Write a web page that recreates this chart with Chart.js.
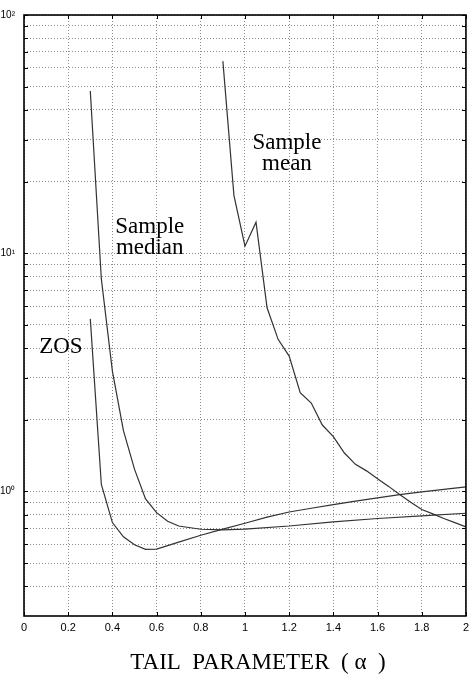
<!DOCTYPE html>
<html>
<head>
<meta charset="utf-8">
<script src="https://cdn.jsdelivr.net/npm/chart.js@4.4.1/dist/chart.umd.min.js"></script>
<style>
html, body { margin: 0; padding: 0; background: #fff; }
#wrap { width: 474px; height: 698px; }
</style>
</head>
<body>
<div id="wrap"><canvas id="chart"></canvas></div>
<script>
// values (tail parameter alpha vs. value, log scale)
var zosAlpha = [0.3, 0.35, 0.4, 0.45, 0.5, 0.55, 0.6, 0.7, 0.8, 0.9, 1.0, 1.1, 1.2, 1.3, 1.4, 1.5, 1.6, 1.7, 1.8, 1.9, 2.0];
var zosValues = [5.3, 1.07, 0.74, 0.645, 0.597, 0.571, 0.573, 0.613, 0.655, 0.695, 0.735, 0.78, 0.82, 0.85, 0.88, 0.91, 0.94, 0.97, 0.995, 1.02, 1.045];

var medianAlpha = [0.3, 0.35, 0.4, 0.45, 0.5, 0.55, 0.6, 0.65, 0.7, 0.8, 0.9, 1.0, 1.2, 1.4, 1.6, 1.8, 2.0];
var medianValues = [48, 7.8, 3.2, 1.8, 1.24, 0.93, 0.815, 0.75, 0.716, 0.694, 0.69, 0.695, 0.716, 0.745, 0.77, 0.79, 0.81];

var meanAlpha = [0.9, 0.95, 1.0, 1.05, 1.1, 1.15, 1.2, 1.25, 1.3, 1.35, 1.4, 1.45, 1.5, 1.55, 1.6, 1.65, 1.7, 1.75, 1.8, 1.85, 1.9, 1.95, 2.0];
var meanValues = [64, 17.5, 10.7, 13.5, 5.9, 4.35, 3.7, 2.6, 2.35, 1.9, 1.7, 1.45, 1.3, 1.22, 1.13, 1.05, 0.97, 0.9, 0.84, 0.805, 0.77, 0.74, 0.71];

var xTicks = [0, 0.2, 0.4, 0.6, 0.8, 1, 1.2, 1.4, 1.6, 1.8, 2];
var yGrid = [0.4, 0.5, 0.6, 0.7, 0.8, 0.9, 1, 2, 3, 4, 5, 6, 7, 8, 9, 10, 20, 30, 40, 50, 60, 70, 80, 90, 100];
var yLabels = { 1: '10\u2070', 10: '10\u00b9', 100: '10\u00b2' };

// text labels: [text, alpha, value, align, second line]
var curveLabels = [
    ['Sample', 1.19, 27.5, 'center'],
    ['mean', 1.19, 27.5, 'center', 1],
    ['Sample', 0.569, 12.2, 'center'],
    ['median', 0.569, 12.2, 'center', 1],
    ['ZOS', 0.167, 3.8, 'center']
];

function pts(xs, ys) {
    return xs.map(function (x, i) { return { x: x, y: ys[i] }; });
}

var frame = {
    id: 'frame',
    afterDraw: function (chart) {
        var ctx = chart.ctx, a = chart.chartArea;
        var xs = chart.scales.x, ys = chart.scales.y;
        ctx.save();
        ctx.strokeStyle = '#000';
        ctx.lineWidth = 1;
        ctx.beginPath();
        xTicks.forEach(function (v) {
            var p = Math.round(xs.getPixelForValue(v)) + 0.5;
            ctx.moveTo(p, a.bottom); ctx.lineTo(p, a.bottom - 4);
            ctx.moveTo(p, a.top); ctx.lineTo(p, a.top + 4);
        });
        yGrid.forEach(function (v) {
            var p = Math.round(ys.getPixelForValue(v)) + 0.5;
            ctx.moveTo(a.left, p); ctx.lineTo(a.left + 4, p);
            ctx.moveTo(a.right, p); ctx.lineTo(a.right - 4, p);
        });
        ctx.stroke();
        ctx.lineWidth = 1.6;
        ctx.strokeRect(a.left, a.top, a.right - a.left, a.bottom - a.top);

        ctx.fillStyle = '#000';
        ctx.textBaseline = 'alphabetic';
        ctx.font = '23px "Liberation Serif"';
        curveLabels.forEach(function (l) {
            ctx.textAlign = l[3];
            ctx.fillText(l[0], xs.getPixelForValue(l[1]), ys.getPixelForValue(l[2]) + (l[4] ? 21 : 0));
        });

        ctx.textAlign = 'center';
        ctx.fillText('TAIL  PARAMETER  ( \u03b1  )', (a.left + a.right) / 2 + 13, a.bottom + 53);
        ctx.restore();
    }
};

var lineStyle = { borderColor: '#333', borderWidth: 1.2, pointRadius: 0, fill: false, tension: 0 };

new Chart(document.getElementById('chart'), {
    type: 'line',
    data: {
        datasets: [
            Object.assign({ label: 'ZOS', data: pts(zosAlpha, zosValues) }, lineStyle),
            Object.assign({ label: 'Sample median', data: pts(medianAlpha, medianValues) }, lineStyle),
            Object.assign({ label: 'Sample mean', data: pts(meanAlpha, meanValues) }, lineStyle)
        ]
    },
    options: {
        responsive: true,
        maintainAspectRatio: false,
        animation: false,
        layout: { padding: { top: 14, right: 7, left: 0, bottom: 0 } },
        plugins: { legend: { display: false }, tooltip: { enabled: false } },
        scales: {
            x: {
                type: 'linear',
                min: 0, max: 2,
                afterFit: function (s) { s.height = 82; },
                afterBuildTicks: function (s) { s.ticks = xTicks.map(function (v) { return { value: v }; }); },
                ticks: {
                    color: '#000', font: { family: 'Liberation Sans', size: 11 }, padding: 5, maxRotation: 0, autoSkip: false,
                    callback: function (v) { return String(v); }
                },
                grid: { color: '#8c8c8c', drawTicks: false, lineWidth: 1 },
                border: { display: false, dash: [1, 2] }
            },
            y: {
                type: 'logarithmic',
                min: 0.3, max: 100,
                afterFit: function (s) { s.width = 24; },
                afterBuildTicks: function (s) { s.ticks = yGrid.map(function (v) { return { value: v }; }); },
                ticks: {
                    color: '#000', font: { family: 'Liberation Sans', size: 10 }, padding: 9, autoSkip: false,
                    callback: function (v) { return yLabels[v] || ''; }
                },
                grid: { color: '#8c8c8c', drawTicks: false, lineWidth: 1 },
                border: { display: false, dash: [1, 2] }
            }
        }
    },
    plugins: [frame]
});
</script>
</body>
</html>
